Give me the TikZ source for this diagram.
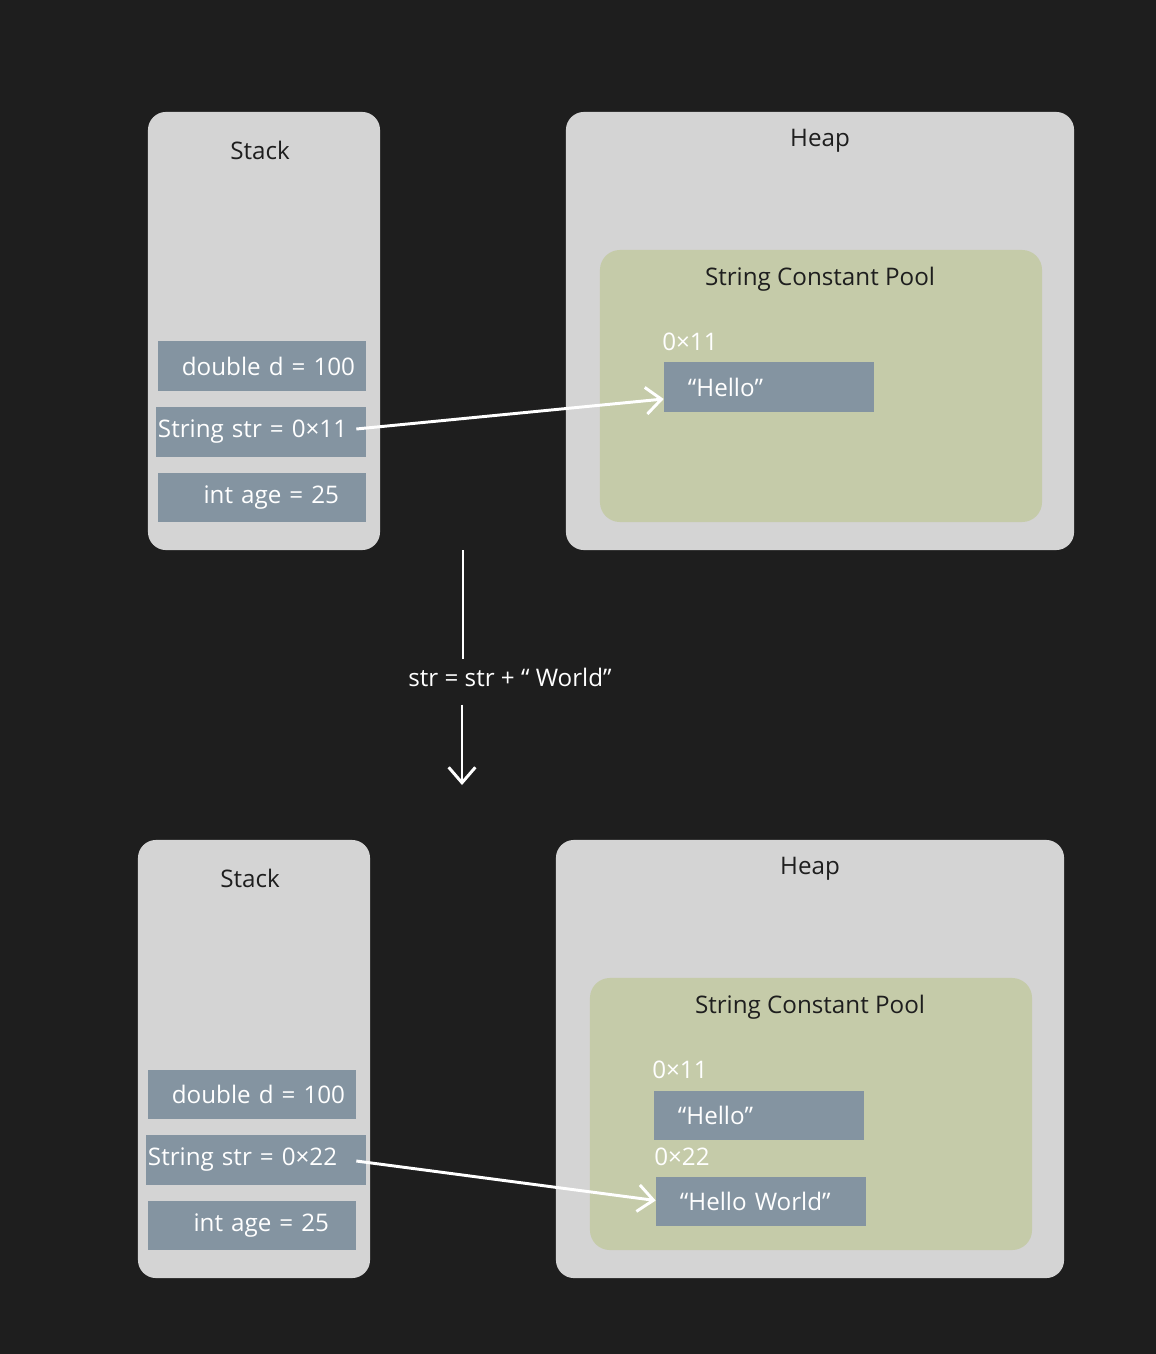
\documentclass[tikz,border=0pt]{standalone}
\usepackage{fontspec}
\setmainfont{Open Sans}
\usepackage{xcolor}
\definecolor{canvas}{HTML}{1E1E1E}
\definecolor{panelgray}{HTML}{D4D4D4}
\definecolor{poolgreen}{HTML}{C5CBA9}
\definecolor{cellblue}{HTML}{8494A1}
\usetikzlibrary{calc}
\usetikzlibrary{positioning}
\usetikzlibrary{arrows.meta,backgrounds}
\tikzset{every picture/.style={/utils/exec={\fontsize{17.2}{21}\selectfont}}}
\tikzset{
  panel/.style={fill=panelgray, rounded corners=0.45cm, inner sep=0pt},
  pool/.style={fill=poolgreen, rounded corners=0.5cm, inner sep=0pt},
  cell/.style={fill=cellblue, text=white, inner sep=0pt, minimum width=5.2cm, minimum height=1.225cm},
  heapcell/.style={cell, minimum width=5.25cm, text width=4.05cm, align=left},
  title/.style={text=canvas},
  addr/.style={text=white, anchor=west, inner sep=0pt},
  ref/.style={draw=white, line width=2.1pt, -{Straight Barb[length=11pt,width=19pt,line width=2.1pt]}},
}

\begin{document}
\begin{tikzpicture}[x=0.025cm,y=-0.025cm]
  \begin{scope}[on background layer]
    \fill[canvas] (0,0) rectangle (1156,1354);
  \end{scope}
  \useasboundingbox (0,0) rectangle (1156,1354);

  % before
  \node [panel, minimum width=5.8cm, minimum height=10.95cm] (stackA) at (264,331) {};
  \node [title] (stackAtitle) at (260,150) {Stack};
  \node [panel, minimum width=12.7cm, minimum height=10.95cm] (heapA) at (820,331) {};
  \node [title] (heapAtitle) at (820,141) {Heap};
  \node [pool, minimum width=11.05cm, minimum height=6.8cm] (poolA) at (821,386) {};
  \node [title] (poolAtitle) at (820,279) {String Constant Pool};

  \node [cell, text width=4.65cm, align=right] (dblA) at (262,366) {double d = 100};
  \node [cell, minimum width=5.25cm, minimum height=1.25cm, text width=5.15cm, align=left] (strA) at (261,432) {String str = 0×11};
  \node [cell, text width=3.85cm, align=right] (ageA) at (262,497.5) {int age = 25};

  \node [addr] (addrA) at (662,342) {0×11};
  \node [heapcell] (helloA) at (769,387) {“Hello”};

  \draw [ref] ($(strA.east)+(-10,-3)$) -- ($(helloA.west)+(0,12)$);

  % the statement
  \coordinate (flowtop) at (463,550);
  \node [text=white] (op) at (510,677) {str = str + “ World”};
  \coordinate (flowbot) at (462,785);
  \draw [white, line width=1pt] (flowtop) -- (flowtop |- op.north);
  \draw [ref] (flowbot |- op.south) ++(0,10) -- (flowbot);

  % after
  \node [panel, minimum width=5.8cm, minimum height=10.95cm] (stackB) at (254,1059) {};
  \node [title] (stackBtitle) at (250,878) {Stack};
  \node [panel, minimum width=12.7cm, minimum height=10.95cm] (heapB) at (810,1059) {};
  \node [title] (heapBtitle) at (810,869) {Heap};
  \node [pool, minimum width=11.05cm, minimum height=6.8cm] (poolB) at (811,1114) {};
  \node [title] (poolBtitle) at (810,1007) {String Constant Pool};

  \node [cell, text width=4.65cm, align=right] (dblB) at (252,1094) {double d = 100};
  \node [cell, minimum width=5.5cm, minimum height=1.25cm, text width=5.4cm, align=left] (strB) at (256,1160) {String str = 0×22};
  \node [cell, text width=3.85cm, align=right] (ageB) at (252,1225.5) {int age = 25};

  \node [addr] (addrB) at (652,1070) {0×11};
  \node [heapcell] (helloB) at (759,1115) {“Hello”};
  \node [addr] (addrC) at (654,1157) {0×22};
  \node [heapcell] (worldB) at (761,1201.5) {“Hello World”};

  \draw [ref] ($(strB.east)+(-10,1)$) -- ($(worldB.west)+(0,-1)$);
\end{tikzpicture}
\end{document}
